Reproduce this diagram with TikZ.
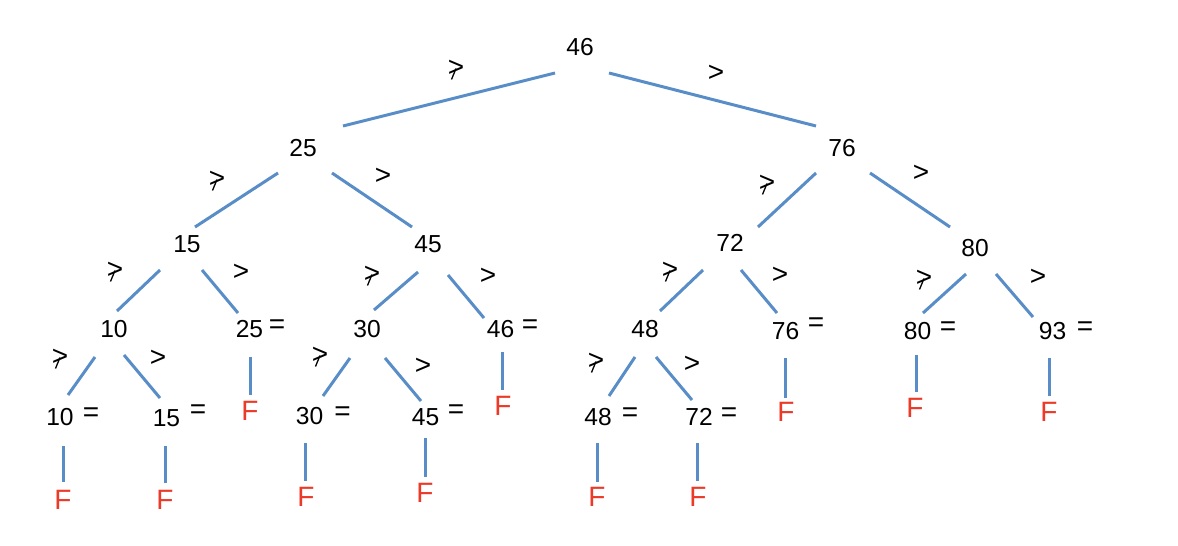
\documentclass[tikz,border=0pt]{standalone}
\usepackage{fontspec}
\setmainfont{Liberation Sans}
\definecolor{edgeblue}{RGB}{88,141,200}
\definecolor{fred}{RGB}{236,58,40}
\tikzset{
  num/.style={inner sep=0pt, font=\fontsize{12.3}{14}\selectfont},
  eqs/.style={inner sep=0pt, font=\fontsize{14}{16}\selectfont},
  ff/.style={inner sep=0pt, text=fred, font=\fontsize{14}{16}\selectfont},
  gtl/.style={inner sep=0pt, font=\fontsize{14}{16}\selectfont},
  slashline/.style={draw=black, line width=0.65pt},
  edge/.style={draw=edgeblue, line width=1.5pt}
}
\newcommand{\ngtlab}[3]{%
  \node[gtl] (#1) at (#2,#3) {>};
  \draw[slashline] ([shift={(0,0.5)}]#1.center) -- ([shift={(-4.5,11.5)}]#1.center);}
\begin{document}
\begin{tikzpicture}[x=0.5pt,y=-0.5pt]
\useasboundingbox (0,0) rectangle (1178,546);
% internal nodes
\node[num] (n46) at (580,47) {46};
\node[num] (n25) at (303,148) {25};
\node[num] (n76) at (842,148) {76};
\node[num] (n15) at (187,244) {15};
\node[num] (n45) at (428,244) {45};
\node[num] (n72) at (730,243) {72};
\node[num] (n80) at (975,248) {80};
\node[num] (n10) at (114,329) {10};
\node[num] (n30) at (367,329) {30};
\node[num] (n48) at (645,329) {48};
% equality leaves
\node[num] (q25) at (249.5,329) {25}; \node[eqs] (e25) at (277,327) {=};
\node[num] (q46) at (500.5,329) {46}; \node[eqs] (e46) at (530,327) {=};
\node[num] (q76) at (785.5,331) {76}; \node[eqs] (e76) at (816,325) {=};
\node[num] (q80) at (917.5,331) {80}; \node[eqs] (e80) at (948,329) {=};
\node[num] (q93) at (1052.5,331) {93}; \node[eqs] (e93) at (1085,329) {=};
\node[num] (q10) at (60,417) {10}; \node[eqs] (e10) at (91,415) {=};
\node[num] (q15) at (166.5,418) {15}; \node[eqs] (e15) at (198,412) {=};
\node[num] (q30) at (309.5,416) {30}; \node[eqs] (e30) at (342.5,414) {=};
\node[num] (q45) at (425.5,417) {45}; \node[eqs] (e45) at (456,412) {=};
\node[num] (q48) at (598,417) {48}; \node[eqs] (e48) at (630,415) {=};
\node[num] (q72) at (699,417) {72}; \node[eqs] (e72) at (729,415) {=};
% F results
\node[ff] (f25) at (250,411) {F};
\node[ff] (f46) at (503,406) {F};
\node[ff] (f76) at (786,412) {F};
\node[ff] (f80) at (915,408) {F};
\node[ff] (f93) at (1049,412) {F};
\node[ff] (f10) at (63,500) {F};
\node[ff] (f15) at (165,500) {F};
\node[ff] (f30) at (306,497) {F};
\node[ff] (f45) at (425,493) {F};
\node[ff] (f48) at (597,497) {F};
\node[ff] (f72) at (698,497) {F};
% edge labels
\ngtlab{a46}{456}{68} \node[gtl] (b46) at (716,73) {>};
\ngtlab{a25}{217}{179} \node[gtl] (b25) at (383,176) {>};
\ngtlab{a76}{767}{183} \node[gtl] (b76) at (921,173) {>};
\ngtlab{a15}{115}{270} \node[gtl] (b15) at (241,272) {>};
\ngtlab{a45}{372}{274} \node[gtl] (b45) at (488,276) {>};
\ngtlab{a72}{670}{270} \node[gtl] (b72) at (780,275) {>};
\ngtlab{a80}{924}{278} \node[gtl] (b80) at (1038,277) {>};
\ngtlab{a10}{60}{357} \node[gtl] (b10) at (158,358) {>};
\ngtlab{a30}{320}{355} \node[gtl] (b30) at (423,366) {>};
\ngtlab{a48}{596}{361} \node[gtl] (b48) at (692,364) {>};
% connectors
\draw[edge] (555,73) coordinate (s46l) -- (343,126) coordinate (t25);
\draw[edge] (609,73) coordinate (s46r) -- (816,126) coordinate (t76);
\draw[edge] (278,173) coordinate (s25l) -- (195,227) coordinate (t15);
\draw[edge] (332,173) coordinate (s25r) -- (412,227) coordinate (t45);
\draw[edge] (816,173) coordinate (s76l) -- (758,227) coordinate (t72);
\draw[edge] (870,173) coordinate (s76r) -- (950,227) coordinate (t80);
\draw[edge] (160,270) coordinate (s15l) -- (117,311) coordinate (t10);
\draw[edge] (202,270) coordinate (s15r) -- (238,313) coordinate (tq25);
\draw[edge] (418,272) coordinate (s45l) -- (374,310) coordinate (t30);
\draw[edge] (448,275) coordinate (s45r) -- (484,318) coordinate (tq46);
\draw[edge] (703,270) coordinate (s72l) -- (660,311) coordinate (t48);
\draw[edge] (741,270) coordinate (s72r) -- (777,313) coordinate (tq76);
\draw[edge] (966,274) coordinate (s80l) -- (923,313) coordinate (tq80);
\draw[edge] (996,274) coordinate (s80r) -- (1033,317) coordinate (tq93);
\draw[edge] (95,357) coordinate (s10l) -- (68,395) coordinate (tq10);
\draw[edge] (124,355) coordinate (s10r) -- (160,398) coordinate (tq15);
\draw[edge] (350,358) coordinate (s30l) -- (323,396) coordinate (tq30);
\draw[edge] (385,358) coordinate (s30r) -- (421,401) coordinate (tq45);
\draw[edge] (635,357) coordinate (s48l) -- (609,396) coordinate (tq48);
\draw[edge] (656,357) coordinate (s48r) -- (692,400) coordinate (tq72);
% vertical F connectors
\draw[edge] (250,357) coordinate (v25) -- (250,395) coordinate (w25);
\draw[edge] (502,352) coordinate (v46) -- (502,390) coordinate (w46);
\draw[edge] (785,358) coordinate (v76) -- (785,398) coordinate (w76);
\draw[edge] (916,355) coordinate (v80) -- (916,392) coordinate (w80);
\draw[edge] (1049,358) coordinate (v93) -- (1049,396) coordinate (w93);
\draw[edge] (63,446) coordinate (v10) -- (63,482) coordinate (w10);
\draw[edge] (165,446) coordinate (v15) -- (165,483) coordinate (w15);
\draw[edge] (305,443) coordinate (v30) -- (305,481) coordinate (w30);
\draw[edge] (425,438) coordinate (v45) -- (425,477) coordinate (w45);
\draw[edge] (597,443) coordinate (v48) -- (597,482) coordinate (w48);
\draw[edge] (697,443) coordinate (v72) -- (697,481) coordinate (w72);
\end{tikzpicture}
\end{document}
